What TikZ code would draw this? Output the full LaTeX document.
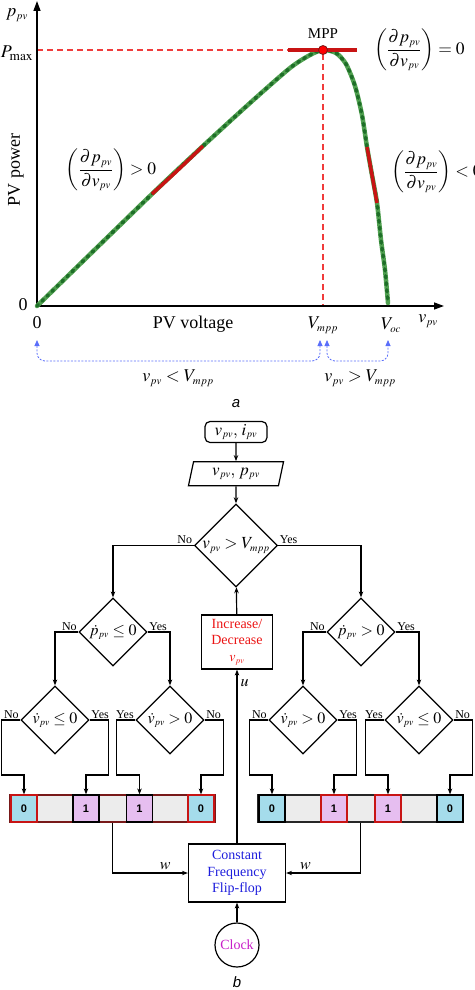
\documentclass[tikz,border=0pt]{standalone}
\usepackage{amsmath}
\usepackage{mathptmx}
\usepackage[no-math]{fontspec}
\setmainfont{Liberation Serif}
\newfontfamily\sansfnt{Liberation Sans}
\usepackage{xcolor}
\usetikzlibrary{shapes.geometric, arrows.meta, positioning}

\definecolor{pvgreen}{RGB}{80,160,80}
\definecolor{pvdark}{RGB}{30,110,40}
\definecolor{mppred}{RGB}{200,20,20}
\definecolor{refred}{RGB}{240,60,60}
\definecolor{hintblue}{RGB}{90,110,250}
\definecolor{cellblue}{RGB}{165,220,235}
\definecolor{cellpink}{RGB}{230,190,240}
\definecolor{regred}{RGB}{120,25,25}
\definecolor{txtred}{RGB}{235,20,20}
\definecolor{txtblue}{RGB}{30,30,220}
\definecolor{txtmag}{RGB}{200,30,200}

% tiny subscript as in the original figure
\newcommand{\ssub}[1]{_{\scriptscriptstyle #1}}

\begin{document}
\begin{tikzpicture}[x=1pt, y=-1pt,
  axis/.style={-{Triangle[length=10pt, width=7pt]}, line width=1.4pt},
  pvcurve/.style={line width=4.5pt, color=pvgreen, line cap=round,
                  postaction={draw, color=pvdark, line width=3.5pt, dash pattern=on 2pt off 5pt}},
  slope/.style={line width=3.5pt, color=mppred},
  refdash/.style={refred, line width=1.2pt, dash pattern=on 6pt off 4pt},
  hint/.style={{Triangle[length=6pt, width=5pt]}-{Triangle[length=6pt, width=5pt]},
               hintblue, line width=0.8pt, dash pattern=on 2pt off 1.5pt, rounded corners=8pt},
  mppdot/.style={circle, fill=red, draw=regred, line width=0.8pt, minimum size=9pt, inner sep=0pt},
  lbl/.style={font=\fontsize{18}{20}\selectfont, inner sep=0pt},
  frac/.style={font=\fontsize{17.5}{20}\selectfont, inner sep=0pt},
  figcap/.style={font=\sansfnt\itshape\fontsize{15}{17}\selectfont, inner sep=0pt},
  %% flow chart
  term/.style={rectangle, draw, rounded corners=5pt, line width=1.2pt,
               minimum width=62pt, minimum height=21pt, inner sep=1pt, font=\fontsize{17}{18}\selectfont},
  io/.style={trapezium, trapezium left angle=78, trapezium right angle=102, draw, line width=1.2pt,
             minimum width=66pt, minimum height=24pt, inner sep=1pt, font=\fontsize{17}{18}\selectfont},
  dec/.style={diamond, draw, line width=1.2pt, inner sep=0pt,
              minimum width=82pt, minimum height=81pt, font=\fontsize{17}{18}\selectfont},
  dsmall/.style={dec, minimum width=68pt, minimum height=68pt, font=\fontsize{16}{17}\selectfont},
  block/.style={rectangle, draw, line width=1.2pt, align=center, inner sep=1pt,
                font=\fontsize{14}{16.5}\selectfont},
  clock/.style={circle, draw, line width=1.2pt, minimum size=44pt, inner sep=0pt,
                text=txtmag, font=\fontsize{14}{16}\selectfont},
  reg/.style={rectangle, fill=gray!15, line width=2pt, minimum width=205pt, minimum height=27pt},
  cell/.style={rectangle, line width=1.2pt, minimum width=26pt, minimum height=27pt,
               font=\sansfnt\bfseries\fontsize{11}{12}\selectfont},
  arr/.style={-{Stealth[length=6pt, width=4.5pt]}, line width=1.2pt},
  yn/.style={font=\fontsize{12}{13}\selectfont, inner sep=1.5pt},
  note/.style={font=\fontsize{16}{18}\selectfont, inner sep=3pt}
]
  \useasboundingbox (0,0) rectangle (474,990);

  %% ── a: P-V curve ──────────────────────────────────────────────────
  \coordinate (org)  at (37,306);
  \coordinate (xtip) at (444,306);
  \coordinate (ytip) at (37,1);
  \coordinate (mpp)  at (323,50);
  \coordinate (pmx)  at (37,50);
  \coordinate (vmp)  at (323,306);

  \draw[refdash] (pmx) -- (mpp) -- (vmp);
  \draw[axis] (org) -- (xtip);
  \draw[axis] (org) -- (ytip);

  \draw[pvcurve] plot[smooth, tension=0.45] coordinates {(37,306) (152,194) (203,146)
      (250,103) (290,68) (310,55) (323,50) (336,53) (346,64) (355,86) (362,115)
      (367,147) (372,175) (377,203) (381,240) (385,270) (388,303)};
  \draw[slope] plot[smooth] coordinates {(152,194) (178,170) (203,146)};
  \draw[slope] plot[smooth] coordinates {(367,147) (372,175) (377,203)};
  \draw[slope] (288,50) -- (357,50);
  \node[mppdot] (mppd) at (mpp) {};

  %% ── a: axis labels ────────────────────────────────────────────────
  \node[lbl] (ppv)  at (17,15)  {$p\ssub{pv}$};
  \node[lbl] (pmax) at (17,53)  {$P_{\max}$};
  \node[lbl] (y0)   at (23,305) {0};
  \node[lbl] (x0)   at (37,323) {0};
  \node[lbl, rotate=90] (ylab) at (16,170) {PV power};
  \node[lbl] (xlab) at (193,324) {PV voltage};
  \node[lbl] (vmpp) at (323,325) {$V\ssub{mpp}$};
  \node[lbl] (voc)  at (391,325) {$V\ssub{oc}$};
  \node[lbl] (vpv)  at (428,321) {$v\ssub{pv}$};
  \node[font=\fontsize{15}{17}\selectfont, inner sep=0pt] (mpplab) at (323,34) {MPP};

  \node[frac, anchor=west] (dz) at (374,50)  {$\displaystyle\left(\frac{\partial p\ssub{pv}}{\partial v\ssub{pv}}\right)=0$};
  \node[frac] (dpos) at (111,170) {$\displaystyle\left(\frac{\partial p\ssub{pv}}{\partial v\ssub{pv}}\right)>0$};
  \node[frac, anchor=west] (dneg) at (391,172) {$\displaystyle\left(\frac{\partial p\ssub{pv}}{\partial v\ssub{pv}}\right)<0$};

  %% ── a: operating ranges ───────────────────────────────────────────
  \coordinate (h0) at (37,340);
  \coordinate (h1) at (320,340);
  \coordinate (h2) at (327,340);
  \coordinate (h3) at (388,340);
  \draw[hint] (h0) -- ++(0,21) -| (h1);
  \draw[hint] (h2) -- ++(0,21) -| (h3);
  \node[lbl] (rngL) at (178,378) {$v\ssub{pv} < V\ssub{mpp}$};
  \node[lbl] (rngR) at (360,378) {$v\ssub{pv} > V\ssub{mpp}$};
  \node[figcap] (capa) at (236,404) {a};

  %% ── b: main chain ─────────────────────────────────────────────────
  \node[term] (inp) at (236,432) {$v\ssub{pv},\, i\ssub{pv}$};
  \node[io, below=18pt of inp] (pwr) {$v\ssub{pv},\, p\ssub{pv}$};
  \node[dec, below=17pt of pwr] (cmp) {$v\ssub{pv} > V\ssub{mpp}$};

  \node[dsmall] (dPa) at (113,632) {$\dot{p}\ssub{pv} \le 0$};
  \node[dsmall] (dPb) at (361,632) {$\dot{p}\ssub{pv} > 0$};
  \node[dsmall] (dVa) at (55,720)  {$\dot{v}\ssub{pv} \le 0$};
  \node[dsmall] (dVb) at (170,720) {$\dot{v}\ssub{pv} > 0$};
  \node[dsmall] (dVc) at (303,720) {$\dot{v}\ssub{pv} > 0$};
  \node[dsmall] (dVd) at (419,720) {$\dot{v}\ssub{pv} \le 0$};

  \node[block, text=txtred, minimum width=71pt, minimum height=54pt] (act) at (237,642) {Increase/\\Decrease\\$v\ssub{pv}$};
  \node[block, text=txtblue, minimum width=97pt, minimum height=58pt] (ff) at (237,873) {Constant\\Frequency\\Flip-flop};
  \node[clock] (clk) at (237,945) {Clock};

  %% ── b: switching registers ────────────────────────────────────────
  \node[reg, draw=regred] (regL) at (112.5,808.5) {};
  \node[cell, fill=cellblue, draw=mppred] (cL1) at (24,808.5)  {0};
  \node[cell, fill=cellpink, draw=black]  (cL2) at (86,808.5)  {1};
  \node[cell, fill=cellpink, draw=black]  (cL3) at (139.5,808.5) {1};
  \node[cell, fill=cellblue, draw=mppred] (cL4) at (201,808.5) {0};

  \node[reg, draw=black!85] (regR) at (360.5,808.5) {};
  \node[cell, fill=cellblue, draw=black]  (cR1) at (272,808.5) {0};
  \node[cell, fill=cellpink, draw=mppred] (cR2) at (334,808.5) {1};
  \node[cell, fill=cellpink, draw=mppred] (cR3) at (388,808.5) {1};
  \node[cell, fill=cellblue, draw=black]  (cR4) at (450,808.5) {0};

  %% ── b: Yes / No ───────────────────────────────────────────────────
  \node[yn, anchor=south east] (nA) at (cmp.west) {No};
  \node[yn, anchor=south west] (yA) at (cmp.east) {Yes};
  \node[yn, anchor=south east] (nB) at (dPa.west) {No};
  \node[yn, anchor=south west] (yB) at (dPa.east) {Yes};
  \node[yn, anchor=south east] (nC) at (dPb.west) {No};
  \node[yn, anchor=south west] (yC) at (dPb.east) {Yes};
  \node[yn, anchor=south east] (nD) at (dVa.west) {No};
  \node[yn, anchor=south west] (yD) at (dVa.east) {Yes};
  \node[yn, anchor=south east] (yE) at (dVb.west) {Yes};
  \node[yn, anchor=south west] (nE) at (dVb.east) {No};
  \node[yn, anchor=south east] (nF) at (dVc.west) {No};
  \node[yn, anchor=south west] (yF) at (dVc.east) {Yes};
  \node[yn, anchor=south east] (yG) at (dVd.west) {Yes};
  \node[yn, anchor=south west] (nG) at (dVd.east) {No};

  %% ── b: arrows ─────────────────────────────────────────────────────
  \draw[arr] (inp) -- (pwr);
  \draw[arr] (pwr) -- (cmp);
  \draw[arr] (cmp.west) -| (dPa.north);
  \draw[arr] (cmp.east) -| (dPb.north);
  \draw[arr] (dPa.west) -| (dVa.north);
  \draw[arr] (dPa.east) -| (dVb.north);
  \draw[arr] (dPb.west) -| (dVc.north);
  \draw[arr] (dPb.east) -| (dVd.north);

  \draw[arr] (dVa.west) -- ++(-19,0) -- ++(0,55) -| (cL1.north);
  \draw[arr] (dVa.east) -- ++(19,0)  -- ++(0,55) -| (cL2.north);
  \draw[arr] (dVb.west) -- ++(-19,0) -- ++(0,55) -| (cL3.north);
  \draw[arr] (dVb.east) -- ++(19,0)  -- ++(0,55) -| (cL4.north);
  \draw[arr] (dVc.west) -- ++(-19,0) -- ++(0,55) -| (cR1.north);
  \draw[arr] (dVc.east) -- ++(19,0)  -- ++(0,55) -| (cR2.north);
  \draw[arr] (dVd.west) -- ++(-19,0) -- ++(0,55) -| (cR3.north);
  \draw[arr] (dVd.east) -- ++(19,0)  -- ++(0,55) -| (cR4.north);

  \draw[arr] (regL.south) |- node[pos=0.85, above, note]{$w$} (ff.west);
  \draw[arr] (regR.south) |- node[pos=0.87, above, note]{$w$} (ff.east);
  \draw[arr] (clk) -- (ff);
  \draw[arr] (ff) -- node[pos=0.92, right, note]{$u$} (act);
  \draw[arr] (act) -- (cmp);

  \node[figcap] (capb) at (237,982) {b};
\end{tikzpicture}
\end{document}
